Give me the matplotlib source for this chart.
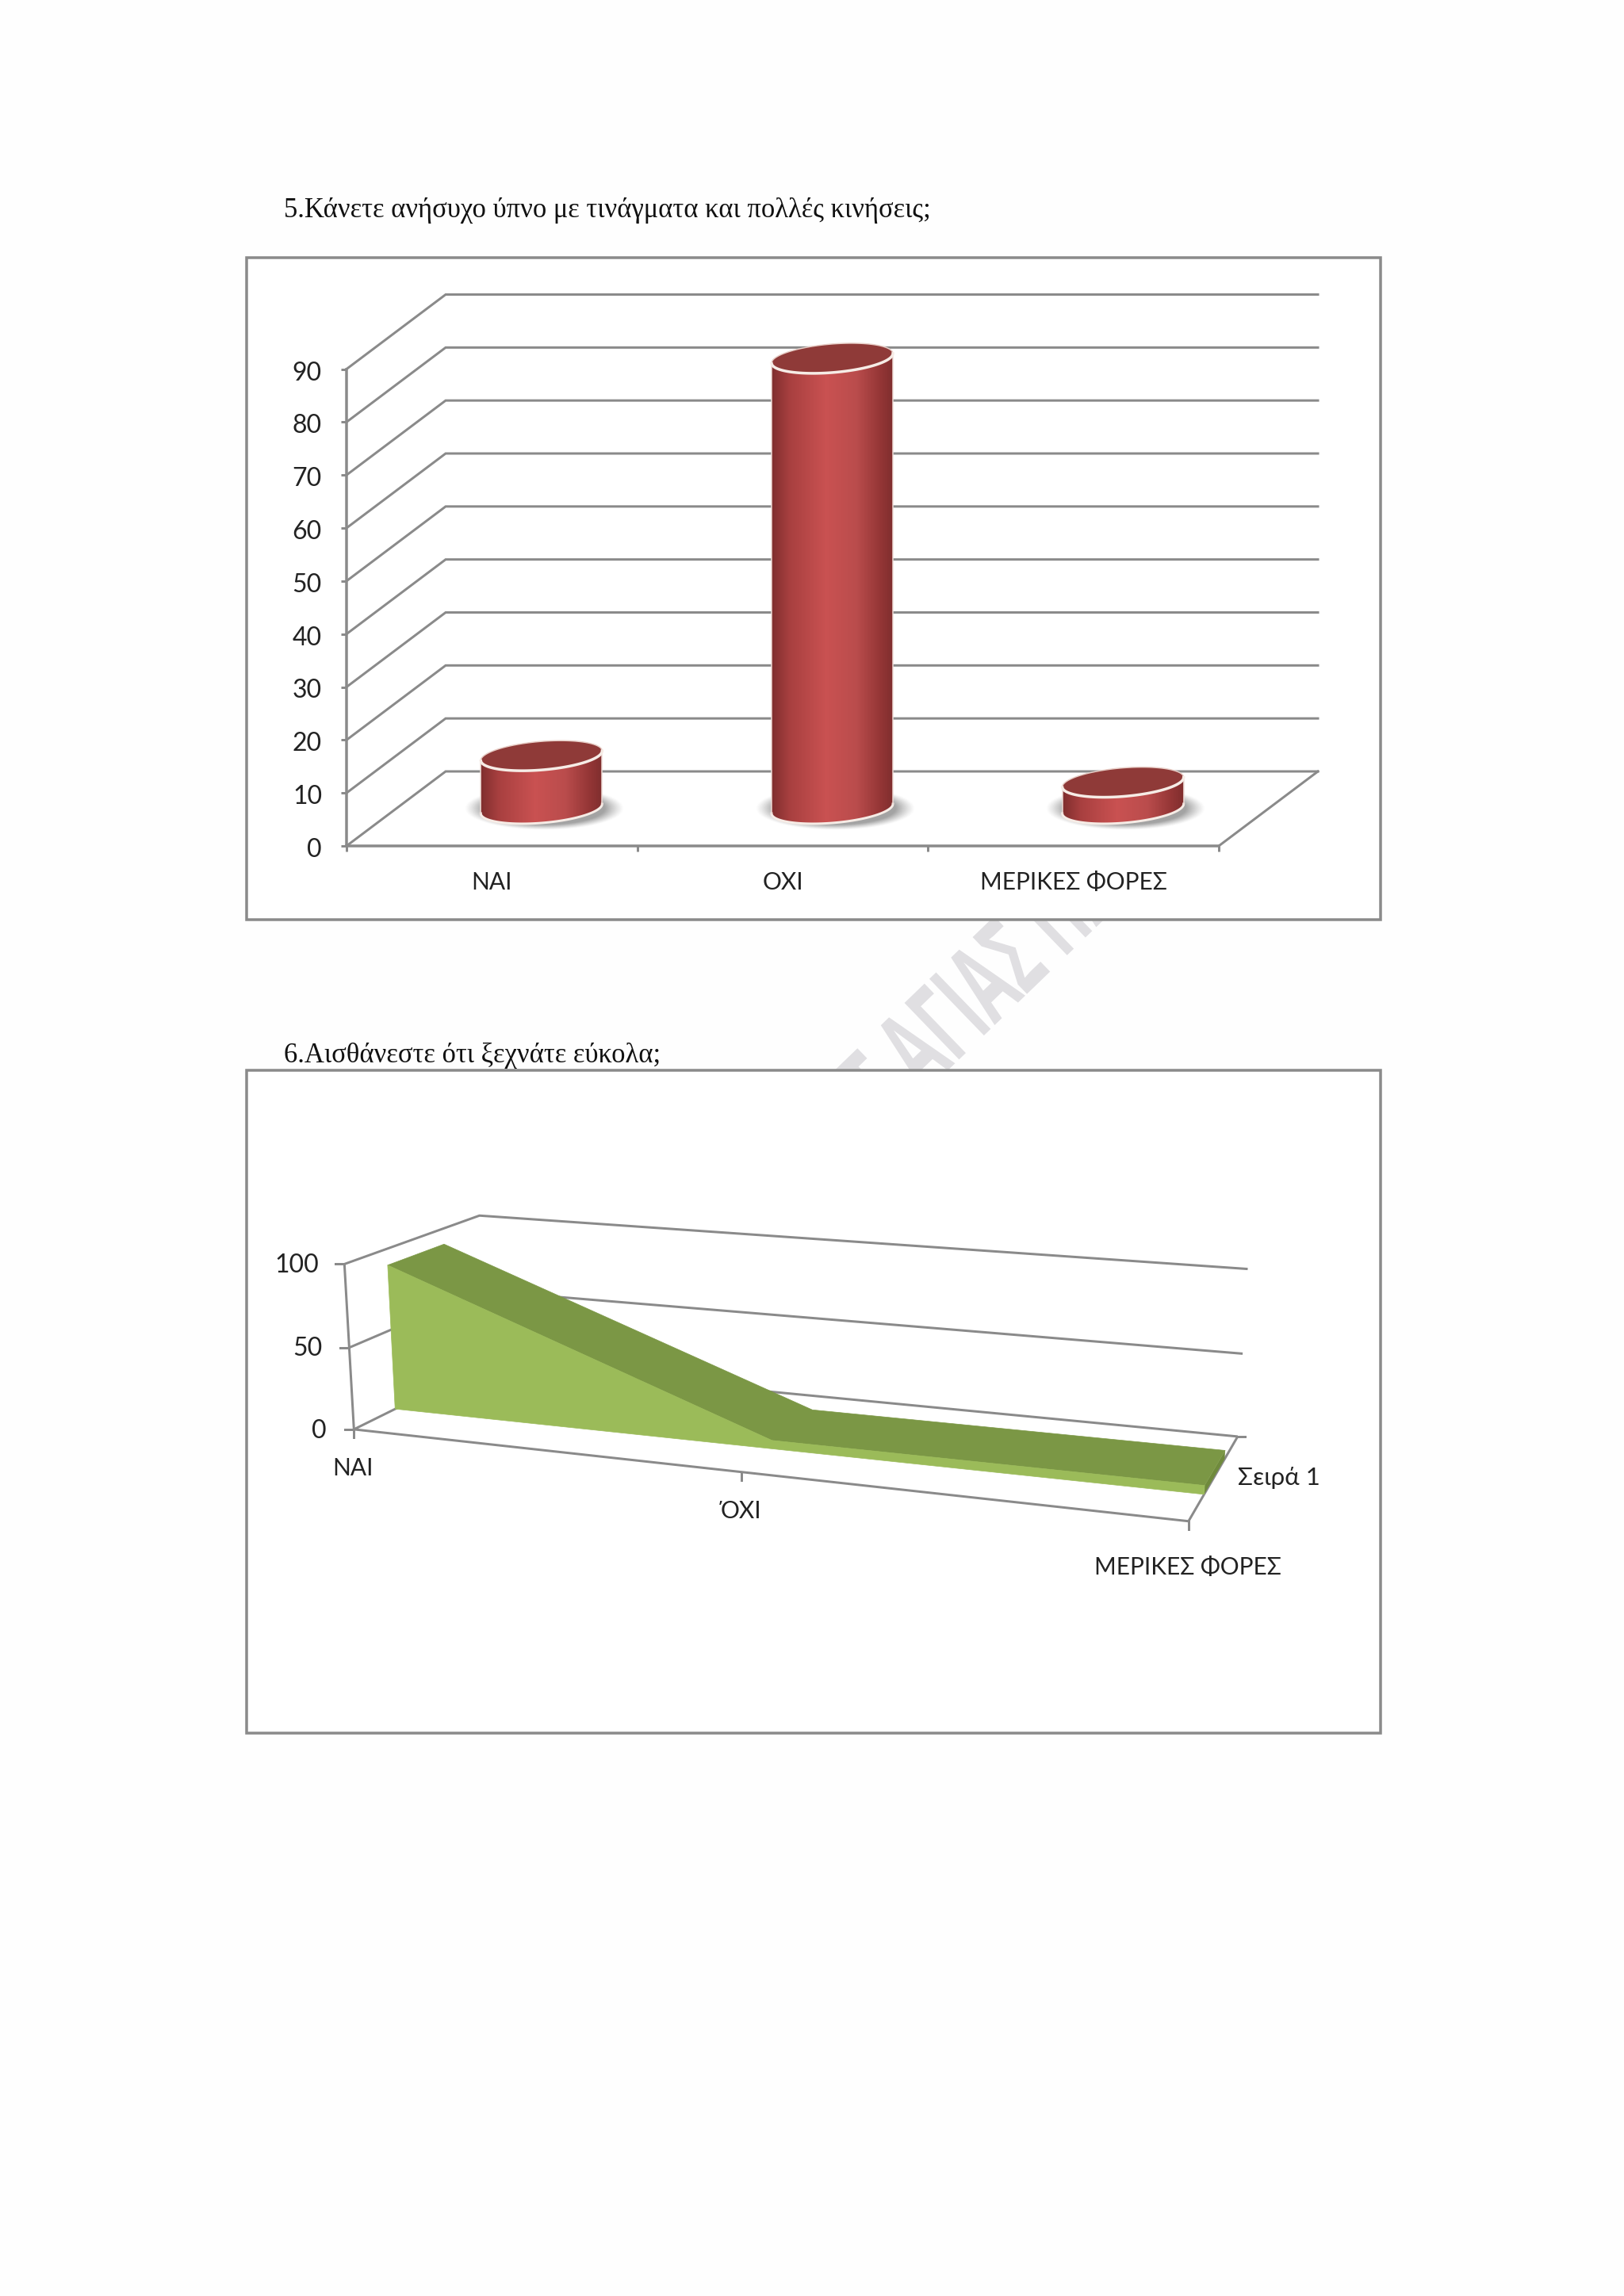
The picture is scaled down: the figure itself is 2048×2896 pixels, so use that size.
import numpy as np
import matplotlib
matplotlib.use("Agg")
import matplotlib.pyplot as plt
from matplotlib.path import Path
from matplotlib.patches import PathPatch, Rectangle, Polygon
from matplotlib.patheffects import AbstractPathEffect
from matplotlib.transforms import Affine2D

# ---- data ----
categories1 = ["ΝΑΙ", "ΟΧΙ", "ΜΕΡΙΚΕΣ ΦΟΡΕΣ"]
values1 = [10, 85, 5]
yticks1 = list(range(0, 100, 10))
title1 = "5.Κάνετε ανήσυχο ύπνο με τινάγματα και πολλές κινήσεις;"

categories2 = ["ΝΑΙ", "ΌΧΙ", "ΜΕΡΙΚΕΣ ΦΟΡΕΣ"]
values2 = [90, 5, 5]
yticks2 = [0, 50, 100]
series2 = "Σειρά 1"
title2 = "6.Αισθάνεστε ότι ξεχνάτε εύκολα;"
watermark = "Τ ΑΓΙΑΣ ΠΑ"

SANS = ["Lato", "Open Sans", "DejaVu Sans"]
SERIF = ["Liberation Serif", "DejaVu Serif"]
W, H = 2048, 2896
GRAY = "#8a8a8a"
PAGE = "#fefefe"
RIM = "#f6ece6"

fig = plt.figure(figsize=(W / 100, H / 100), dpi=100, facecolor=PAGE)
bg = fig.add_axes([0, 0, 1, 1])
bg.set_xlim(0, W); bg.set_ylim(H, 0); bg.axis("off")
bg.autoscale(False)
px = lambda p: p * 72 / 100  # pixels -> points


class Squeeze(AbstractPathEffect):
    """Narrows text along its rotated baseline around a display-space anchor."""

    def __init__(self, anchor, angle, factor):
        super().__init__()
        self.anchor, self.angle, self.factor = anchor, angle, factor

    def draw_path(self, renderer, gc, tpath, affine, rgbFace=None):
        ax_, ay_ = self.anchor
        tf = (Affine2D().translate(-ax_, -ay_).rotate_deg(-self.angle)
              .scale(self.factor, 1).rotate_deg(self.angle).translate(ax_, ay_))
        renderer.draw_path(gc, tpath, affine + tf, rgbFace)


# watermark (mostly hidden by the white chart boxes)
WX, WY = 1245, 1252
wm = bg.text(WX, WY, watermark, rotation=44, rotation_mode="anchor", ha="center", va="center",
             fontsize=100, color="#e0dfe2", family=["Open Sans", "DejaVu Sans"], fontweight="bold", zorder=1)
wm.set_path_effects([Squeeze((WX, H - WY), 44, 0.56)])

# frames
for y0, y1 in [(325, 1160), (1350, 2186)]:
    bg.add_patch(Rectangle((311, y0), 1430, y1 - y0, fc="white", ec=GRAY, lw=px(3.5), zorder=2))

bg.text(358, 266, title1, family=SERIF, fontsize=24.9, color="#111111", va="center", zorder=3)
bg.text(358, 1332, title2, family=SERIF, fontsize=24.9, color="#111111", va="center", zorder=1.5)

# ---------- chart 1 : cylinders on an oblique floor ----------
L, R, Y0, Y90 = 437, 1537, 1067, 465.5
ax1 = fig.add_axes([L / W, 1 - Y0 / H, (R - L) / W, (Y0 - Y90) / H])
ax1.patch.set_alpha(0)
ax1.set_xlim(0, 3); ax1.set_ylim(0, 90); ax1.autoscale(False)
ux, uy = (R - L) / 3, (Y0 - Y90) / 90
DX, DY = 125 / ux, 94 / uy          # depth vector in data units

for s in ("top", "right"):
    ax1.spines[s].set_visible(False)
for s in ("left", "bottom"):
    ax1.spines[s].set_color(GRAY); ax1.spines[s].set_linewidth(px(3.5))
ax1.set_yticks(yticks1)
ax1.set_xticks([0, 1, 2, 3]); ax1.set_xticklabels([])
ax1.set_xticks([0.5, 1.5, 2.5], labels=categories1, minor=True)
ax1.tick_params(axis="both", which="major", length=px(7), width=px(3), color=GRAY)
ax1.tick_params(axis="y", labelsize=23, pad=px(24), labelcolor="#222222")
ax1.tick_params(axis="x", which="minor", length=0, labelsize=21.5, pad=px(32), labelcolor="#222222")
for lab in ax1.get_yticklabels() + ax1.get_xticklabels(minor=True):
    lab.set_family(SANS)
for lab in ax1.get_yticklabels():
    lab.set_transform(lab.get_transform() + Affine2D().translate(0, -2))

for v in yticks1:
    ax1.plot([0, DX, 3 + DX], [v, v + DY, v + DY], color=GRAY, lw=px(3), clip_on=False, zorder=1,
             solid_joinstyle="miter")
ax1.plot([3, 3 + DX], [0, DY], color=GRAY, lw=px(3), clip_on=False, zorder=1)

A_, B_, K_ = 76.5 / ux, 18 / uy, 6 / uy
t = np.linspace(0, 2 * np.pi, 181)
cyl_grad = np.array([[0.00, 0.50, 0.18, 0.18], [0.15, 0.66, 0.25, 0.25], [0.45, 0.79, 0.32, 0.32],
                     [0.70, 0.73, 0.30, 0.30], [0.90, 0.58, 0.21, 0.21], [1.0, 0.50, 0.18, 0.18]])
xs_g = np.linspace(0, 1, 256)
grad = np.stack([np.interp(xs_g, cyl_grad[:, 0], cyl_grad[:, i]) for i in (1, 2, 3)], axis=-1)[None, :, :]

for i, val in enumerate(values1):
    cx = i + 0.5 + DX / 2
    by = DY / 2
    ty = by + val
    # soft shadow on the floor
    gx = np.linspace(-1.6, 1.6, 200); gy = np.linspace(-1.8, 1.8, 120)
    XX, YY = np.meshgrid(gx, gy)
    rr = np.sqrt(XX ** 2 + YY ** 2)
    alpha = np.clip((1.32 - rr) / 0.32, 0, 1) ** 1.2 * 0.62
    shadow = np.zeros(XX.shape + (4,))
    shadow[..., :3] = 0.42; shadow[..., 3] = alpha
    sx, sy = A_ * 1.0, B_ * 1.15
    ax1.imshow(shadow, extent=[cx + 0.01 - 1.6 * sx, cx + 0.01 + 1.6 * sx, by - 1.8 * sy, by + 1.8 * sy],
               origin="lower", aspect="auto", zorder=2, clip_on=False, interpolation="bilinear")
    # body
    tb = np.linspace(np.pi, 2 * np.pi, 91)      # lower half of the base
    tt = np.linspace(0, np.pi, 91)              # upper half of the top
    bx = cx + A_ * np.cos(tb); byy = by + B_ * np.sin(tb) + K_ * np.cos(tb)
    tx_ = cx + A_ * np.cos(tt); tyy = ty + B_ * np.sin(tt) + K_ * np.cos(tt)
    verts = np.r_[np.c_[bx, byy], np.c_[tx_, tyy], [[bx[0], byy[0]]]]
    body = Path(verts, closed=True)
    im = ax1.imshow(grad, extent=[cx - A_, cx + A_, by - 2 * B_, ty + 2 * B_], aspect="auto",
                    zorder=3, clip_on=True, interpolation="bilinear")
    im.set_clip_box(fig.bbox)
    im.set_clip_path(PathPatch(body, transform=ax1.transData))
    ax1.plot(bx, byy, color=RIM, lw=px(3), zorder=4, clip_on=False)
    ax1.plot([bx[0], bx[0]], [byy[0], by + val - K_], color="#eedcd6", lw=px(1.5), zorder=4, clip_on=False)
    ax1.plot([bx[-1], bx[-1]], [byy[-1], by + val + K_], color="#eedcd6", lw=px(1.5), zorder=4, clip_on=False)
    # top ellipse: bright rim on the near edge only
    ex = cx + A_ * np.cos(t); ey = ty + B_ * np.sin(t) + K_ * np.cos(t)
    ax1.fill(ex, ey, fc="#8f3a38", ec="#e8cfc8", lw=px(1.5), zorder=5, clip_on=False)
    near = t > np.pi
    ax1.plot(ex[near], ey[near], color=RIM, lw=px(3.5), zorder=6, clip_on=False)

# ---------- chart 2 : projected 3-D area ----------
D0, D1 = 0.29, 0.71
calib = np.array([
    (0, 0, 0, 445, 1802), (2, 0, 0, 1498, 1919), (1, 0, 0, 934, 1859),
    (0, 100, 0, 434, 1594), (0, 50, 0, 440, 1699), (0, 100, 1, 605, 1532),
    (2, 100, 1, 1573, 1601), (2, 50, 1, 1568, 1707), (2, 0, 1, 1561, 1811),
    (0, 90, D0, 491, 1596), (0, 0, D0, 500, 1777), (0, 90, D1, 558, 1571),
    (1, 5, D0, 976, 1817), (1, 5, D1, 1023, 1779), (2, 5, D0, 1521, 1873),
    (2, 5, D1, 1544, 1831), (2, 0, D0, 1518, 1883),
], dtype=float)
rows = []
for c, v, d, u_, w_ in calib:
    X = np.array([c, v / 100, d, 1.0])
    u_, w_ = u_ / 1000, w_ / 1000
    rows.append(np.r_[X, np.zeros(4), -u_ * X])
    rows.append(np.r_[np.zeros(4), X, -w_ * X])
P = np.linalg.svd(np.array(rows))[2][-1].reshape(3, 4)


def proj(c, v, d):
    h = P @ np.array([c, v / 100, d, 1.0])
    return h[0] / h[2] * 1000, h[1] / h[2] * 1000


def line(pts, lw=3, z=3):
    q = np.array([proj(*p) for p in pts])
    bg.plot(q[:, 0], q[:, 1], color=GRAY, lw=px(lw), zorder=z, solid_capstyle="butt")


for v in yticks2:
    line([(0, v, 0), (0, v, 1), (2, v, 1)])
line([(0, 0, 0), (0, 100, 0)])
line([(0, 0, 0), (2, 0, 0), (2, 0, 1)])
for v in yticks2:
    a = proj(0, v, 0); bg.plot([a[0] - 11, a[0]], [a[1], a[1]], color=GRAY, lw=px(3), zorder=3)
for c in range(3):
    a = proj(c, 0, 0); bg.plot([a[0], a[0]], [a[1], a[1] + 10], color=GRAY, lw=px(3), zorder=3)
a = proj(2, 0, 1); bg.plot([a[0], a[0] + 9], [a[1], a[1]], color=GRAY, lw=px(3), zorder=3)

n = len(values2)
top_front = [proj(i, values2[i], D0) for i in range(n)]
top_back = [proj(i, values2[i], D1) for i in range(n)]
base_front = [proj(i, 0, D0) for i in range(n)]
side = [proj(n - 1, values2[-1], D0), proj(n - 1, values2[-1], D1), proj(n - 1, 0, D1), proj(n - 1, 0, D0)]
bg.add_patch(Polygon(side, fc="#6f8a3c", ec="none", zorder=4))
bg.add_patch(Polygon(top_front + top_back[::-1], fc="#7b9745", ec="#7b9745", lw=0.5, zorder=5))
bg.add_patch(Polygon(base_front[:1] + top_front + base_front[-1:], fc="#9bbb59", ec="#9bbb59", lw=0.5, zorder=6))

kw = dict(family=SANS, color="#222222", zorder=7)
for v, (xr, yc) in zip(yticks2[::-1], [(402, 1596), (407, 1701), (412, 1805)]):
    bg.text(xr, yc, str(v), ha="right", va="center", fontsize=23, **kw)
for lab, (xc, yc) in zip(categories2, [(445, 1852), (935, 1906), (1498, 1977)]):
    bg.text(xc, yc, lab, ha="center", va="center", fontsize=21.5, **kw)
bg.text(1561, 1864, series2, ha="left", va="center", fontsize=22.5, **kw)

fig.savefig("out.png", dpi=100, facecolor=PAGE)
